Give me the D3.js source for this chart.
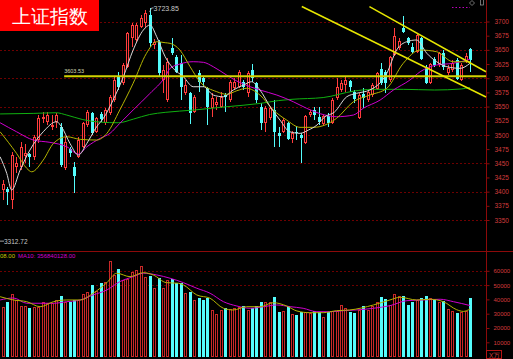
<!DOCTYPE html>
<html>
<head>
<meta charset="utf-8">
<script src="https://cdn.jsdelivr.net/npm/d3@7/dist/d3.min.js"></script>
<style>
  body { margin: 0; background: #000; }
  svg { display: block; background: #000; }
  text { font-family: "Liberation Sans", Arial, sans-serif; }
</style>
</head>
<body>
<svg width="513" height="359"></svg>
<script>
// daily bars, left to right
const opens = [3402.7,3403.9,3385.1,3443.9,3443.9,3462.7,3466.3,3461.5,3490.9,3527.4,3523.3,3514.5,3523.3,3514.5,3441.0,3474.5,3443.9,3461.5,3479.2,3517.4,3538.0,3505.6,3536.2,3520.3,3538.0,3561.5,3603.9,3590.9,3620.3,3670.3,3667.3,3690.9,3696.7,3711.5,3659.0,3664.4,3596.8,3561.5,3652.6,3637.9,3626.2,3573.3,3573.3,3540.9,3609.7,3599.7,3582.1,3546.8,3552.7,3549.8,3570.3,3561.5,3582.1,3585.1,3593.9,3573.3,3614.4,3590.9,3549.8,3520.3,3529.2,3543.9,3502.7,3505.6,3520.3,3492.1,3505.6,3499.8,3486.2,3535.1,3543.9,3532.1,3519.2,3533.3,3520.3,3564.5,3579.2,3587.9,3595.0,3576.2,3529.2,3571.5,3561.5,3570.3,3580.3,3615.6,3611.5,3596.8,3640.9,3652.6,3687.9,3670.3,3655.6,3646.8,3670.3,3620.3,3592.1,3633.2,3623.3,3645.0,3609.7,3614.4,3632.1,3596.8,3629.1,3650.9];
const highs = [3420.4,3408.6,3470.4,3461.5,3488.0,3483.9,3467.4,3499.8,3535.1,3540.9,3540.9,3535.1,3539.2,3520.3,3496.8,3479.2,3452.7,3496.8,3523.3,3543.9,3540.9,3532.1,3540.9,3546.8,3570.3,3602.7,3611.5,3626.2,3682.0,3696.7,3696.7,3711.5,3720.3,3723.85,3670.0,3667.3,3623.3,3635.0,3670.3,3640.9,3640.9,3596.8,3576.2,3570.3,3614.4,3602.7,3585.1,3573.3,3567.4,3576.2,3573.3,3596.8,3599.7,3614.4,3596.8,3613.3,3625.0,3593.9,3555.6,3550.9,3550.9,3561.5,3514.5,3529.2,3523.3,3507.4,3515.6,3502.7,3535.1,3543.9,3549.8,3549.8,3535.1,3538.0,3564.5,3599.7,3596.8,3601.5,3596.8,3579.2,3573.3,3582.1,3579.2,3590.9,3611.5,3626.2,3614.4,3639.1,3687.9,3670.3,3709.7,3672.1,3661.5,3679.1,3673.2,3623.3,3627.4,3637.9,3646.8,3649.7,3623.3,3632.1,3635.0,3626.2,3643.8,3652.6];
const lows = [3385.1,3376.3,3368.6,3432.2,3438.0,3449.8,3443.9,3455.7,3485.1,3520.3,3517.4,3508.6,3511.5,3443.9,3438.0,3461.5,3396.9,3458.6,3476.3,3514.5,3499.8,3502.7,3523.3,3517.4,3535.1,3558.6,3579.2,3587.9,3617.4,3655.6,3664.4,3687.9,3690.9,3655.6,3652.0,3602.7,3573.3,3558.6,3640.9,3608.5,3561.5,3570.3,3519.2,3538.0,3576.2,3585.1,3517.4,3532.1,3543.9,3546.8,3540.9,3558.6,3579.2,3582.1,3579.2,3567.4,3593.9,3555.6,3508.6,3505.6,3526.2,3479.2,3479.2,3502.7,3490.9,3485.1,3490.9,3449.8,3483.9,3532.1,3526.2,3517.4,3517.4,3514.5,3519.2,3561.5,3576.2,3576.2,3576.2,3555.6,3527.4,3546.8,3558.6,3567.4,3579.2,3587.9,3573.3,3593.9,3639.1,3649.7,3679.1,3658.5,3643.8,3645.0,3632.1,3589.7,3589.7,3620.3,3620.3,3614.4,3605.6,3611.5,3596.8,3595.6,3626.2,3611.5];
const closes = [3412.7,3399.8,3464.5,3449.8,3479.2,3468.6,3460.4,3496.8,3529.2,3532.1,3535.1,3517.4,3535.1,3446.9,3488.0,3467.4,3427.4,3490.9,3520.3,3540.9,3502.7,3529.2,3528.6,3543.9,3567.4,3596.8,3583.9,3623.3,3679.1,3693.8,3693.8,3705.6,3715.6,3661.5,3664.0,3608.5,3614.4,3629.1,3643.8,3611.5,3585.1,3587.9,3538.0,3567.4,3593.9,3593.9,3549.8,3564.5,3558.6,3567.4,3566.2,3593.9,3593.9,3611.5,3583.9,3609.7,3599.7,3561.5,3520.3,3546.8,3546.8,3505.6,3498.6,3526.2,3492.1,3502.7,3502.7,3493.9,3533.3,3540.9,3535.1,3523.3,3533.3,3521.5,3561.5,3583.9,3590.9,3596.8,3583.9,3562.7,3570.3,3564.5,3576.2,3587.9,3608.5,3590.9,3592.1,3636.8,3674.4,3666.2,3680.9,3661.5,3646.8,3676.2,3633.2,3592.1,3625.0,3623.3,3643.8,3620.3,3617.4,3626.2,3598.0,3623.3,3639.1,3632.1];
const volumes = [34900,38400,43800,39600,35400,35400,33800,34900,34900,38400,37700,37700,39600,42400,38400,38400,39600,39600,43600,45000,50100,45900,51300,52400,66900,57100,61300,53600,54000,58900,60600,63400,55500,56400,47800,54800,47800,53600,54000,51300,51300,44700,45400,39600,40700,39600,40700,32600,29800,32600,33800,33100,34200,34900,35400,32600,33800,35400,38000,38400,38400,41900,31400,31900,35400,29800,28900,31400,31400,30700,32100,31400,27900,31000,31900,32100,36100,33800,31400,30300,32600,35400,32600,35400,38000,41900,40000,36100,43600,42400,42400,36100,38000,39600,41200,42400,41200,39600,38400,39000,33300,31900,30700,31400,31900,40700];

// moving average lines: [day, value]
const ma5 = [[-0.6,3461.5],[0.9,3432.2],[2,3402.8],[3.9,3438],[6.1,3473.3],[9.1,3505.6],[12.1,3523.3],[13.2,3514.4],[15.1,3485.1],[17,3464.5],[18.9,3485.1],[21.1,3514.4],[22.6,3529.2],[24.8,3561.5],[27.1,3602.6],[29.3,3649.7],[31.6,3685],[33.1,3693.8],[34.6,3673.2],[36.5,3637.9],[38.3,3617.4],[40.6,3602.6],[42.8,3585],[45.1,3585],[47.3,3570.3],[49.6,3567.3],[51.8,3579.2],[54.1,3588],[55.9,3593.8],[57.8,3579.2],[60.1,3549.7],[62.3,3526.2],[64.5,3505.6],[66.8,3502.8],[68.7,3508.6],[70.6,3517.4],[72.4,3532.1],[74.5,3540],[77.3,3567.3],[79.5,3573.3],[82.5,3579.2],[86.3,3608.6],[88.5,3649.7],[90.8,3664.4],[93,3667.4],[95.3,3643.9],[97.5,3629.1],[99.8,3620.3],[102.8,3617.4],[105,3626.3]];
const ma10 = [[-0.6,3505.6],[3.1,3467.5],[5.4,3441],[6.5,3435],[9.1,3455.7],[11.4,3485.1],[14.4,3496.8],[17.4,3492.2],[21.1,3491],[23.4,3502.8],[26.3,3543.9],[29.3,3591],[32.3,3643.9],[34.6,3664.4],[36.5,3662.6],[37.6,3661.5],[39.8,3649.7],[42.1,3620.3],[44.3,3593.8],[48.1,3576.2],[50.3,3571.6],[52.6,3577.9],[54.8,3582.2],[57.8,3570.3],[60.8,3543.9],[63.8,3526.2],[66.8,3513.4],[69.8,3513.4],[72.4,3517.4],[75,3529.2],[78.8,3558.5],[82.5,3570.3],[86.3,3582.2],[90,3626.3],[93.8,3649.7],[97.5,3646.7],[101.2,3629.1],[105,3629.1]];
const ma20 = [[-0.6,3521.5],[3.1,3505.6],[6.9,3490.9],[10.6,3486.9],[14.4,3479.1],[17,3466.3],[18.9,3479.1],[21.9,3494],[24.1,3502.8],[26.3,3520.4],[29.3,3543.9],[33.1,3573.3],[36.5,3602.6],[37.6,3617.4],[39.8,3625],[42.8,3629.1],[45.1,3628],[47.3,3620.3],[50.3,3605.6],[52.6,3595],[55.6,3585],[57.8,3579.2],[61.6,3570.3],[65.3,3558.5],[68.3,3546.9],[72.4,3535.1],[75,3532.1],[78.8,3535.1],[81,3546.9],[84.8,3561.5],[87.8,3579.2],[91.5,3596.8],[93.8,3611.4],[97.5,3623.3],[101.2,3626.3],[105,3633.3]];
const ma60 = [[-0.6,3537],[7,3538],[12,3539.1],[14.4,3535],[18,3527],[22,3522.5],[26,3521.5],[29.4,3528],[33,3536],[36.5,3539.8],[43,3543.9],[50,3549.5],[58,3555.7],[62,3560.6],[65,3562.8],[72,3565.9],[79,3577.4],[83,3580.4],[90,3580.4],[97,3579.2],[103,3581],[105,3583.6]];
const volMa5 = [[-0.6,41900],[2.4,39600],[5.4,38400],[8.4,34900],[11.4,38400],[14.4,39600],[17.4,39600],[20.3,44300],[23.4,51700],[25.6,58300],[28.6,55900],[31.6,58700],[33.8,57100],[36.8,51700],[39.5,51300],[40.6,50100],[43.6,43100],[46.6,40800],[49.6,33800],[51.8,32600],[54.8,34900],[57.8,34900],[60.8,37700],[63.8,35400],[66.1,31900],[69,30700],[72,30700],[75,32100],[78,32600],[83.3,36100],[87,39600],[89.3,41500],[93,39600],[96,40100],[99,38400],[102,32800],[103.5,31600],[105,33300]];
const volMa10 = [[-0.6,39600],[2.4,41000],[5.4,37300],[8.4,37300],[11.4,37300],[14.4,38400],[17.4,39600],[20.3,43100],[23.4,46600],[26.3,52400],[29.3,55900],[31.6,58300],[34.6,57100],[37.6,54800],[40.6,51700],[43.6,47800],[46.6,44300],[49.6,38400],[52.6,35400],[55.6,33800],[58.6,34900],[61.6,36100],[64.6,34900],[67.5,33800],[70.6,31400],[73.5,31400],[76.5,32100],[79.5,32600],[83.3,33800],[87,35600],[90.8,39100],[94.5,39600],[98.3,40100],[101.3,38400],[105,35700]];

const priceTicks = d3.range(3350, 3701, 25);
const priceGrid = d3.range(3350, 3701, 50);
const volTicks = [10000, 20000, 30000, 40000, 50000, 60000];
const volGrid = [50000, 60000];

const lineLevel = 3603.53, lineStartDay = 13.8;
const channelA = [[67.2, 3726.5], [108.6, 3566.8]];
const channelB = [[82.4, 3726.1], [108.6, 3611.4]];
const highMark = { day: 33, value: 3723.85 };
const lowMark = { value: 3312.72 };

const RED = "#ff3c3c", CYAN = "#54fcfc", GRIDC = "#6e0000", AXISC = "#8c0a0a", LABELC = "#d23c3c";

const svg = d3.select("svg");
const axisX = 486, sepY = 251;

var x = d3.scaleLinear().domain([0, 105]).range([2.75, 470]),
  y = d3.scaleLinear().domain([3350, 3700]).range([220, 21.5]),
  yv = d3.scaleLinear().domain([0, 60000]).range([356.6, 270.8]);

// grid
svg.append("g").selectAll("line").data(priceGrid).enter().append("line")
  .attr("x1", 0).attr("x2", axisX)
  .attr("y1", (d) => Math.round(y(d)) + 0.5).attr("y2", (d) => Math.round(y(d)) + 0.5)
  .attr("stroke", GRIDC).attr("stroke-dasharray", "2,2");
svg.append("g").selectAll("line").data(volGrid).enter().append("line")
  .attr("x1", 0).attr("x2", axisX)
  .attr("y1", (d) => Math.round(yv(d)) + 0.5).attr("y2", (d) => Math.round(yv(d)) + 0.5)
  .attr("stroke", GRIDC).attr("stroke-dasharray", "2,2");

// frame
svg.append("line").attr("x1", axisX + 0.5).attr("x2", axisX + 0.5).attr("y1", 0).attr("y2", 359).attr("stroke", AXISC);
svg.append("line").attr("x1", 0).attr("x2", 513).attr("y1", sepY + 0.5).attr("y2", sepY + 0.5).attr("stroke", AXISC);

// price axis
var axis_p = d3.axisRight(y).tickValues(priceTicks).tickSize(3).tickFormat(d3.format("d"));
var gp = svg.append("g").attr("transform", "translate(" + (axisX + 0.5) + ",0)").call(axis_p);
gp.select(".domain").remove();
gp.selectAll("line").attr("stroke", AXISC);
gp.selectAll("text").attr("fill", LABELC).attr("font-size", "6.5px").attr("x", 8);

var axis_v = d3.axisRight(yv).tickValues(volTicks).tickSize(3).tickFormat(d3.format("d"));
var gv = svg.append("g").attr("transform", "translate(" + (axisX + 0.5) + ",0)").call(axis_v);
gv.select(".domain").remove();
gv.selectAll("line").attr("stroke", AXISC);
gv.selectAll("text").attr("fill", LABELC).attr("font-size", "6px").attr("x", 7);

// candles
const bars = opens.map((o, i) => ({ i: i, o: o, h: highs[i], l: lows[i], c: closes[i], v: volumes[i], up: closes[i] >= o }));
var gc = svg.append("g");
bars.forEach((b) => {
  let cx = Math.round(x(b.i));
  let top = Math.round(y(Math.max(b.o, b.c))), bot = Math.round(y(Math.min(b.o, b.c)));
  let hy = Math.round(y(b.h)), ly = Math.round(y(b.l));
  let col = b.up ? RED : CYAN;
  if (bot - top < 1) bot = top + 1;
  gc.append("line").attr("x1", cx + 0.5).attr("x2", cx + 0.5).attr("y1", hy).attr("y2", top).attr("stroke", col);
  gc.append("line").attr("x1", cx + 0.5).attr("x2", cx + 0.5).attr("y1", bot).attr("y2", ly).attr("stroke", col);
  if (b.up) {
    gc.append("rect").attr("x", cx - 0.5).attr("y", top + 0.5).attr("width", 2).attr("height", Math.max(bot - top - 1, 0))
      .attr("fill", "#000").attr("stroke", col);
  } else {
    gc.append("rect").attr("x", cx - 1).attr("y", top).attr("width", 3).attr("height", bot - top).attr("fill", col);
  }
});

// volume bars
var gvb = svg.append("g");
bars.forEach((b) => {
  let cx = Math.round(x(b.i));
  let top = Math.round(yv(b.v)), bot = Math.round(yv(0));
  if (b.up) {
    gvb.append("rect").attr("x", cx - 0.5).attr("y", top + 0.5).attr("width", 2).attr("height", bot - top - 1)
      .attr("fill", "#000").attr("stroke", "#c82828");
  } else {
    gvb.append("rect").attr("x", cx - 1).attr("y", top).attr("width", 3).attr("height", bot - top).attr("fill", CYAN);
  }
});

// moving averages
var priceLine = d3.line().x((d) => x(d[0])).y((d) => y(d[1])).curve(d3.curveMonotoneX);
var volLine = d3.line().x((d) => x(d[0])).y((d) => yv(d[1])).curve(d3.curveMonotoneX);
[[ma60, "#10b010"], [ma20, "#d000d0"], [ma10, "#b4b400"], [ma5, "#d8d8d8"]].forEach((m) => {
  svg.append("path").attr("d", priceLine(m[0])).attr("fill", "none").attr("stroke", m[1]).attr("stroke-width", 1);
});
[[volMa10, "#d000d0"], [volMa5, "#b4b400"]].forEach((m) => {
  svg.append("path").attr("d", volLine(m[0])).attr("fill", "none").attr("stroke", m[1]).attr("stroke-width", 1);
});

// drawn lines
svg.append("line").attr("x1", x(lineStartDay)).attr("x2", axisX).attr("y1", y(lineLevel)).attr("y2", y(lineLevel))
  .attr("stroke", "#d2d200").attr("stroke-width", 2);
svg.append("text").attr("x", x(lineStartDay)).attr("y", y(lineLevel) - 3).attr("fill", "#d8d8b0")
  .attr("font-size", "5.5px").text("3603.53");
[channelA, channelB].forEach((c) => {
  svg.append("line").attr("x1", x(c[0][0])).attr("y1", y(c[0][1])).attr("x2", x(c[1][0])).attr("y2", y(c[1][1]))
    .attr("stroke", "#e6e600").attr("stroke-width", 1.5);
});

// high / low marks
var hx = x(highMark.day), hyy = y(highMark.value);
svg.append("path").attr("d", "M" + hx + "," + (hyy + 4) + "L" + (hx + 2) + "," + hyy + "L" + (hx + 4) + "," + hyy)
  .attr("fill", "none").attr("stroke", "#c8c8c8").attr("stroke-width", 0.8);
svg.append("text").attr("x", hx + 4).attr("y", hyy + 3).attr("fill", "#c8c8c8").attr("font-size", "7px").text("3723.85");
svg.append("path").attr("d", "M0," + y(lowMark.value) + "L4," + y(lowMark.value))
  .attr("fill", "none").attr("stroke", "#c8c8c8").attr("stroke-width", 0.8);
svg.append("text").attr("x", 4).attr("y", y(lowMark.value) + 2.5).attr("fill", "#c8c8c8").attr("font-size", "6.5px").text(lowMark.value);

// volume legend
svg.append("text").attr("x", 0).attr("y", 257.5).attr("fill", "#c8c800").attr("font-size", "6px").text("08.00");
svg.append("text").attr("x", 18).attr("y", 257.5).attr("fill", "#d000d0").attr("font-size", "6px").text("MA10: 356840128.00");

// unit box
svg.append("rect").attr("x", 486.5).attr("y", 350.5).attr("width", 15).attr("height", 8).attr("fill", "#000").attr("stroke", "#b41414");
svg.append("text").attr("x", 489).attr("y", 357.5).attr("fill", "#d23c3c").attr("font-size", "6.5px").text("X万");

// top-right toolbar bits
svg.append("line").attr("x1", 452).attr("x2", 470).attr("y1", 7.5).attr("y2", 7.5).attr("stroke", "#c000c0").attr("stroke-dasharray", "1.5,2");
svg.append("path").attr("d", "M472,0.5L474.5,3L472,5.5L469.5,3Z").attr("fill", "none").attr("stroke", "#a0a0a0").attr("stroke-width", 0.7);
svg.append("rect").attr("x", 480.5).attr("y", -1).attr("width", 3).attr("height", 6).attr("fill", "none").attr("stroke", "#a0a0a0").attr("stroke-width", 0.7);

// title
svg.append("rect").attr("x", 0).attr("y", 0).attr("width", 99).attr("height", 31).attr("fill", "#ff0000");
svg.append("text").attr("x", 49.5).attr("y", 23).attr("text-anchor", "middle").attr("fill", "#fff")
  .attr("font-family", "'Noto Sans CJK SC', sans-serif").attr("font-size", "19px").text("上证指数");
</script>
</body>
</html>
